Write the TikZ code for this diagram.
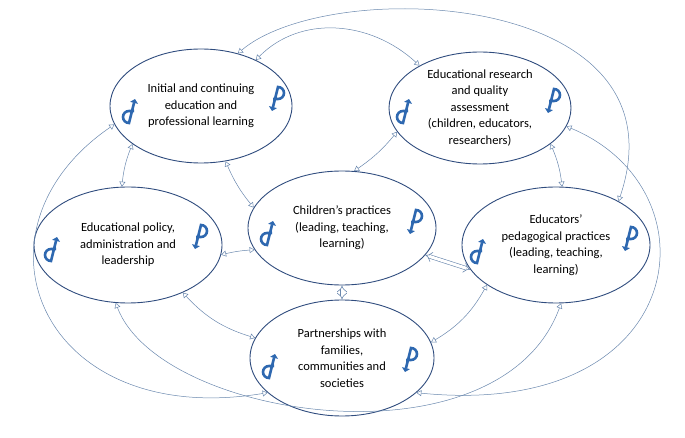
\documentclass[tikz,border=0pt]{standalone}
\usepackage{fontspec}
\setmainfont{Carlito}
\usetikzlibrary{shapes.geometric,arrows.meta}
\definecolor{ell}{HTML}{2F4C7E}
\definecolor{con}{HTML}{6A88AE}
\definecolor{ico}{HTML}{2E68B0}
\tikzset{
  box/.style={ellipse,draw=ell,line width=0.9pt,align=center,inner sep=0pt,font=\fontsize{12.5}{16.5}\selectfont},
  link/.style={draw=con,line width=0.5pt,{Triangle[open,width=6pt,length=5pt]}-{Triangle[open,width=6pt,length=5pt]}},
  fat/.style={draw=con,double=white,double distance=3pt,line width=0.6pt,{Implies}-{Implies}},
  lcyc/.pic={\draw[ico,line width=2.6pt,-{Triangle[width=8pt,length=4pt]}] (4,6) -- (-1,6) arc[start angle=270,end angle=90,radius=6] -- (5,-6);},
  rcyc/.pic={\draw[ico,line width=2.6pt,-{Triangle[width=8pt,length=4pt]}] (-4,-6) -- (1,-6) arc[start angle=90,end angle=-90,radius=6] -- (-5,6);}
}
\begin{document}
\begin{tikzpicture}[x=1pt,y=-1pt]
\useasboundingbox (0,0) rectangle (685,438);
\node[box,minimum width=182,minimum height=114] (init) at (201,106) {Initial and continuing\\education and\\professional learning};
\node[box,minimum width=182,minimum height=112] (res) at (480,108) {Educational research\\and quality\\assessment\\(children, educators,\\researchers)};
\node[box,minimum width=188,minimum height=116] (pol) at (128,245) {Educational policy,\\administration and\\leadership};
\node[box,minimum width=188,minimum height=114] (chi) at (342,228) {Children’s practices\\(leading, teaching,\\learning)};
\node[box,minimum width=188,minimum height=116] (edu) at (556,245) {Educators’\\pedagogical practices\\(leading, teaching,\\learning)};
\node[box,minimum width=184,minimum height=116] (part) at (342,358) {Partnerships with\\families,\\communities and\\societies};
\pic at (130,105) {lcyc}; \pic at (277,105) {rcyc};
\pic at (404,105) {lcyc}; \pic at (553,107) {rcyc};
\pic at (52,243) {lcyc}; \pic at (200,243) {rcyc};
\pic at (268,227) {lcyc}; \pic at (415,228) {rcyc};
\pic at (478,245) {lcyc}; \pic at (630,245) {rcyc};
\pic at (270,360) {lcyc}; \pic at (410,366) {rcyc};
\draw[link] (init.40) .. controls (300,15) and (370,20) .. (res.145);
\draw[link] (init.55) .. controls (330,-25) and (690,-10) .. (edu.35);
\draw[link] (res.196) to[bend left=8] (chi.78);
\draw[link] (res.333) to[bend left=8] (edu.84);
\draw[link] (res.348) .. controls (720,190) and (690,420) .. (part.335);
\draw[link] (init.192) .. controls (-40,230) and (40,430) .. (part.205);
\draw[link] (init.209) to[bend right=8] (pol.96);
\draw[link] (init.294) to[bend right=8] (chi.167);
\draw[link] (pol.354) to[bend left=5] (chi.194);
\draw[link] (pol.319) to[bend right=15] (part.167);
\draw[link] (edu.210) to[bend left=15] (part.10);
\draw[link] (pol.258) .. controls (160,420) and (500,470) .. (edu.275);
\draw[fat] (chi.south) -- (part.north);
\draw[fat] (chi.342) -- (edu.196);
\end{tikzpicture}
\end{document}
